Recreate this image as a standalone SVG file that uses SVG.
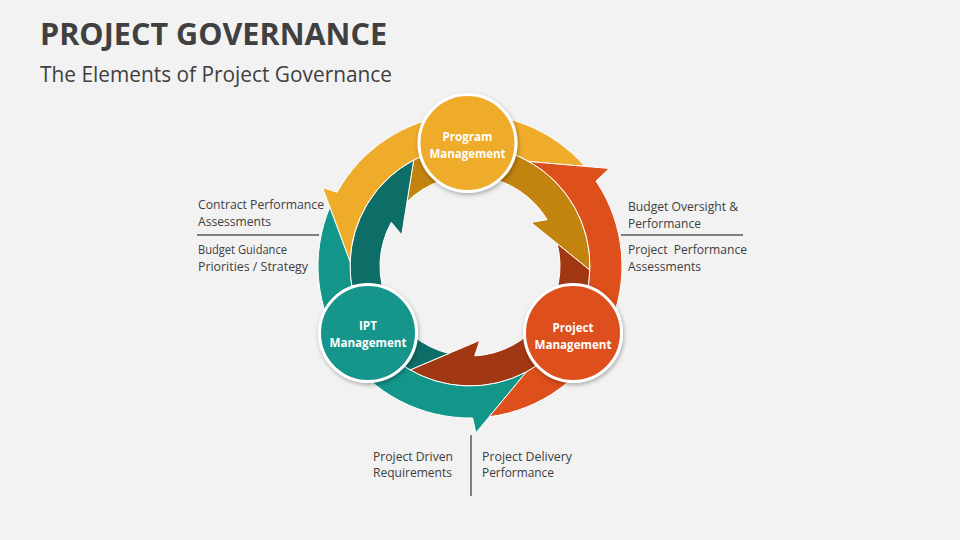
<svg xmlns="http://www.w3.org/2000/svg" width="960" height="540" viewBox="0 0 960 540">
<defs>
<style>
.t{font-family:"Open Sans","Liberation Sans",sans-serif;fill:#404040}
.side{font-size:12.5px}
.lbl{font-family:"Open Sans","Liberation Sans",sans-serif;font-weight:bold;font-size:12.5px;fill:#fff;text-anchor:middle}
.seg{stroke:#fff;stroke-width:1;stroke-linejoin:miter}
.node{stroke:#fff;stroke-width:3}
.rule{stroke:#7f7f7f;stroke-width:2;fill:none}
</style>
<filter id="sh" x="-30%" y="-30%" width="160%" height="160%">
<feDropShadow dx="1" dy="2" stdDeviation="2" flood-color="#000" flood-opacity="0.3"/>
</filter>
</defs>
<rect width="960" height="540" fill="#f2f2f2"/>
<text class="t" x="40" y="45" font-size="30.5" font-weight="bold" textLength="347" lengthAdjust="spacingAndGlyphs">PROJECT GOVERNANCE</text>
<text class="t" x="40" y="81.5" font-size="21" textLength="352" lengthAdjust="spacingAndGlyphs">The Elements of Project Governance</text>

<g id="connectors">
<path id="olive-inner" class="seg" fill="#c2840f" d="M413.66,160.05 A120,120 0 0 1 589.93,270.19 L531.06,222.45 L547.15,219.65 A90,90 0 0 0 407.03,201.70 Z"/>
<path id="darkred-inner" class="seg" fill="#a23813" d="M589.93,270.19 A120,120 0 0 1 410,369.92 L479.79,340.36 L474.71,355.88 A90,90 0 0 0 557.17,243.63 Z"/>
<path id="darkteal-inner" class="seg" fill="#0d6e67" d="M410,369.92 A120,120 0 0 1 413.66,160.05 L401.75,234.90 L391.28,222.37 A90,90 0 0 0 448.83,353.47 Z"/>
<path id="yellow-outer" class="seg" fill="#efab2a" d="M529.09,161.56 A120,120 0 0 0 350.07,261.81 L322.55,187.60 L337.06,192.31 A152,152 0 0 1 584.80,166.38 Z"/>
<path id="teal-outer" class="seg" fill="#13968a" d="M350.07,261.81 A120,120 0 0 0 526.34,371.95 L475.83,432.90 L472.65,417.98 A152,152 0 0 1 329.83,207.22 Z"/>
<path id="orange-outer" class="seg" fill="#dd4f1b" d="M526.34,371.95 A120,120 0 0 0 529.09,161.56 L609.26,168.49 L596.01,181.00 A152,152 0 0 1 489.18,416.78 Z"/>
</g>

<g id="node-program">
<circle class="node" cx="467.5" cy="143" r="48.5" fill="#efab2a" filter="url(#sh)"/>
<text class="lbl" x="467.5" y="141" textLength="50" lengthAdjust="spacingAndGlyphs">Program</text>
<text class="lbl" x="467.5" y="158" textLength="76" lengthAdjust="spacingAndGlyphs">Management</text>
</g>
<g id="node-ipt">
<circle class="node" cx="368" cy="333" r="48.5" fill="#13968a" filter="url(#sh)"/>
<text class="lbl" x="368" y="330" textLength="18" lengthAdjust="spacingAndGlyphs">IPT</text>
<text class="lbl" x="368" y="346.5" textLength="77" lengthAdjust="spacingAndGlyphs">Management</text>
</g>
<g id="node-project">
<circle class="node" cx="573" cy="333" r="48.5" fill="#dd4f1b" filter="url(#sh)"/>
<text class="lbl" x="573" y="332" textLength="41" lengthAdjust="spacingAndGlyphs">Project</text>
<text class="lbl" x="573" y="348.5" textLength="77" lengthAdjust="spacingAndGlyphs">Management</text>
</g>

<g id="label-left">
<text class="t side" x="198" y="209" textLength="126" lengthAdjust="spacingAndGlyphs">Contract Performance</text>
<text class="t side" x="198" y="225.5" textLength="73" lengthAdjust="spacingAndGlyphs">Assessments</text>
<line class="rule" x1="197" y1="235" x2="319" y2="235"/>
<text class="t side" x="198" y="254" textLength="89" lengthAdjust="spacingAndGlyphs">Budget Guidance</text>
<text class="t side" x="198" y="270.5" textLength="110" lengthAdjust="spacingAndGlyphs">Priorities / Strategy</text>
</g>
<g id="label-right">
<text class="t side" x="628" y="211" textLength="110" lengthAdjust="spacingAndGlyphs">Budget Oversight &amp;</text>
<text class="t side" x="628" y="227.5" textLength="73" lengthAdjust="spacingAndGlyphs">Performance</text>
<line class="rule" x1="621" y1="235" x2="743" y2="235"/>
<text class="t side" x="628" y="254" textLength="119" lengthAdjust="spacingAndGlyphs" xml:space="preserve">Project  Performance</text>
<text class="t side" x="628" y="270.5" textLength="73" lengthAdjust="spacingAndGlyphs">Assessments</text>
</g>
<g id="label-bottom">
<line class="rule" x1="471" y1="435" x2="471" y2="496"/>
<text class="t side" x="373" y="460.5" textLength="80" lengthAdjust="spacingAndGlyphs">Project Driven</text>
<text class="t side" x="373" y="477" textLength="79" lengthAdjust="spacingAndGlyphs">Requirements</text>
<text class="t side" x="482" y="460.5" textLength="90" lengthAdjust="spacingAndGlyphs">Project Delivery</text>
<text class="t side" x="482" y="477" textLength="72" lengthAdjust="spacingAndGlyphs">Performance</text>
</g>
</svg>
